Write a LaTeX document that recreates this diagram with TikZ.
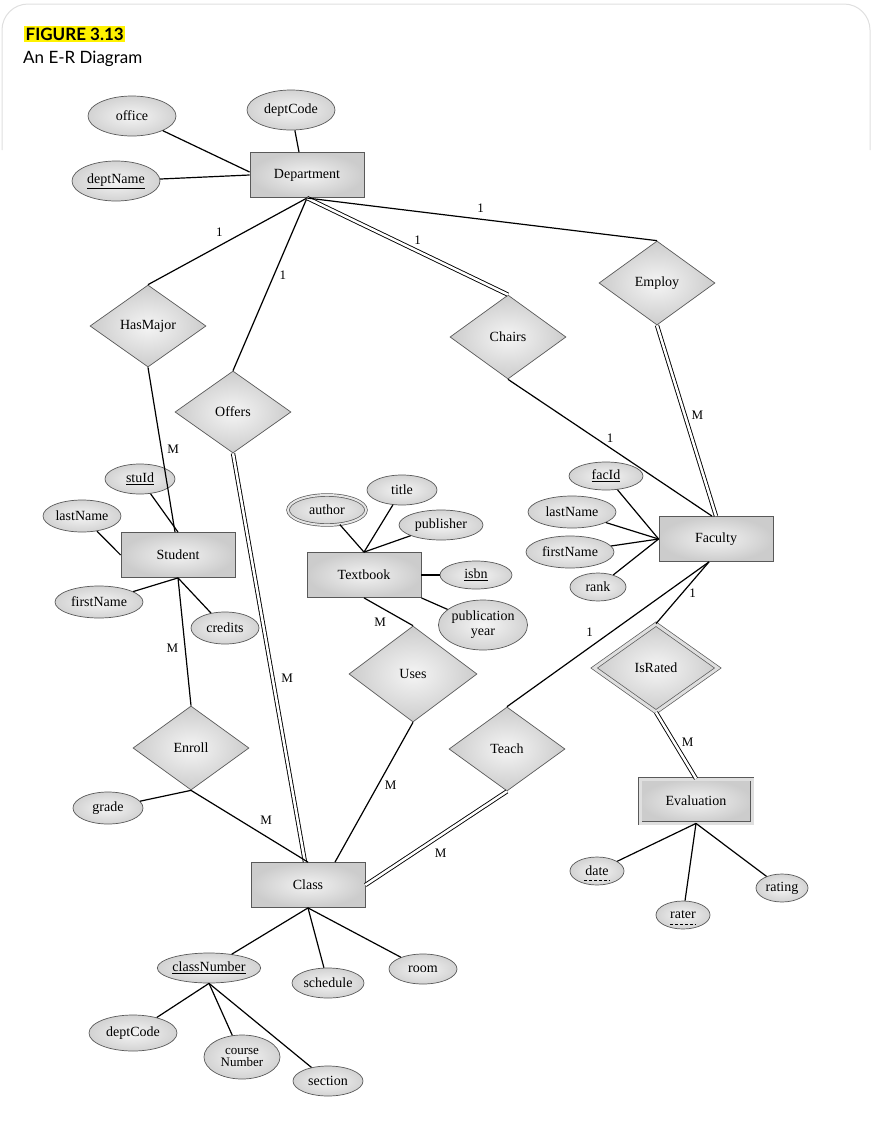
\documentclass[tikz,border=0pt]{standalone}
\usepackage{fontspec}
\setmainfont{Liberation Serif}
\newfontfamily\titlefont{Lato}
\usetikzlibrary{shapes.geometric,calc}
\begin{document}
\begin{tikzpicture}[x=1pt,y=-1pt,
  every node/.style={font=\fontsize{14}{15}\selectfont},
  ent/.style={draw=gray!70!black,line width=0.8pt,rectangle,minimum width=114,minimum height=45,inner color=gray!10,outer color=gray!40},
  attr/.style={draw=gray!70!black,line width=0.7pt,ellipse,inner sep=0,inner color=gray!8,outer color=gray!35},
  rel/.style={draw=gray!70!black,line width=0.7pt,diamond,inner sep=0,inner color=gray!8,outer color=gray!40},
  ln/.style={line width=1.2pt},
  dl/.style={double,double distance=2.5pt,line width=0.9pt},
  lab/.style={font=\fontsize{13}{14}\selectfont}]
\useasboundingbox (0,0) rectangle (882,1128);
\draw[gray!25,line width=1pt,rounded corners=26] (2,150) -- (2,4) -- (870,4) -- (870,150);
\node[fill=yellow,inner sep=1.5pt,anchor=west,font=\titlefont\bfseries\fontsize{17}{19}\selectfont] (fig) at (24,34) {FIGURE 3.13};
\node[anchor=west,inner sep=0,font=\titlefont\fontsize{17}{19}\selectfont] (sub) at (23,59) {An E-R Diagram};
% entities
\node[ent] (dept) at (307,175) {Department};
\node[ent] (stud) at (178,555) {Student};
\node[ent] (text) at (364,575) {Textbook};
\node[ent] (fac) at (716,539) {Faculty};
\node[ent] (class) at (308,885) {Class};
\node[ent,minimum width=112,minimum height=44,double=gray!25,double distance=3pt] (eval) at (696,801) {Evaluation};
% relationships
\node[rel,minimum width=116,minimum height=82] (hasm) at (148,326) {HasMajor};
\node[rel,minimum width=116,minimum height=82] (offers) at (233,412) {Offers};
\node[rel,minimum width=116,minimum height=84] (chairs) at (508,337) {Chairs};
\node[rel,minimum width=116,minimum height=84] (employ) at (657,283) {Employ};
\node[rel,minimum width=124,minimum height=88,double=gray!25,double distance=3pt] (israted) at (656,668) {IsRated};
\node[rel,minimum width=128,minimum height=96] (uses) at (413,674) {Uses};
\node[rel,minimum width=116,minimum height=84] (teach) at (507,749) {Teach};
\node[rel,minimum width=116,minimum height=84] (enroll) at (191,748) {Enroll};
% attributes
\node[attr,minimum width=88,minimum height=40] (office) at (132,116) {office};
\node[attr,minimum width=88,minimum height=40] (dcode) at (291,110) {deptCode};
\node[attr,minimum width=88,minimum height=40] (dname) at (116,181) {\underline{deptName}};
\node[attr,minimum width=70,minimum height=30] (stuid) at (140,479) {\underline{stuId}};
\node[attr,minimum width=78,minimum height=32] (sln) at (82,516) {lastName};
\node[attr,minimum width=88,minimum height=32] (sfn) at (99,602) {firstName};
\node[attr,minimum width=68,minimum height=32] (cred) at (225,628) {credits};
\node[attr,minimum width=78,minimum height=30,double=gray!20,double distance=2pt] (author) at (327,510) {author};
\node[attr,minimum width=70,minimum height=30] (title) at (402,490) {title};
\node[attr,minimum width=84,minimum height=30] (pub) at (441,525) {publisher};
\node[attr,minimum width=72,minimum height=28] (isbn) at (476,575) {\underline{isbn}};
\node[attr,minimum width=88,minimum height=50,align=center] (pyear) at (483,625) {publication\\year};
\node[attr,minimum width=74,minimum height=28] (facid) at (606,476) {\underline{facId}};
\node[attr,minimum width=88,minimum height=32] (fln) at (572,512) {lastName};
\node[attr,minimum width=88,minimum height=32] (ffn) at (570,552) {firstName};
\node[attr,minimum width=56,minimum height=28] (rank) at (598,587) {rank};
\node[attr,minimum width=54,minimum height=28] (date) at (597,871) {date};
\node[attr,minimum width=54,minimum height=28] (rater) at (683,915) {rater};
\node[attr,minimum width=52,minimum height=28] (rating) at (782,888) {rating};
\node[attr,minimum width=70,minimum height=32] (grade) at (108,808) {grade};
\node[attr,minimum width=100,minimum height=30] (cnum) at (209,968) {\underline{classNumber}};
\node[attr,minimum width=72,minimum height=30] (sched) at (328,983) {schedule};
\node[attr,minimum width=68,minimum height=30] (room) at (423,969) {room};
\node[attr,minimum width=88,minimum height=36] (dcode2) at (133,1033) {deptCode};
\node[attr,minimum width=76,minimum height=44,align=center,font=\fontsize{13}{12}\selectfont] (cnumb) at (242,1057) {course\\Number};
\node[attr,minimum width=70,minimum height=30] (sect) at (328,1081) {section};
\draw[densely dashed,thin] ($(date.center)+(-13,9)$) -- ++(26,0);
\draw[densely dashed,thin] ($(rater.center)+(-13,9)$) -- ++(26,0);
% department edges
\draw[ln] (office) -- ($(dept.west)+(0,-3)$);
\draw[ln] (dname) -- (dept.west);
\draw[ln] (dcode) -- ($(dept.north)+(-8,0)$);
\coordinate (ds) at (307,198);
\draw[ln] (ds) -- (hasm.north) node[lab,pos=0.5,above left=1pt] {1};
\draw[ln] (ds) -- (offers.north) node[lab,pos=0.45,right=2pt] {1};
\draw[dl] (ds) -- (chairs.north) node[lab,pos=0.55,above=3pt] {1};
\draw[ln] (ds) -- (405,210) -- (employ.north) node[lab,pos=0.3,above=3pt] {1};
% others
\draw[ln] (hasm.south) -- ($(stud.north)+(-3,0)$) node[lab,pos=0.5,right=2pt] {M};
\draw[dl] (offers.south) -- ($(class.north)+(-3,0)$) node[lab,pos=0.55,right=5pt] {M};
\draw[ln] (chairs.south) -- ($(fac.north)+(-4,0)$) node[lab,pos=0.5,above=1pt] {1};
\draw[dl] (employ.south) -- (fac.north) node[lab,pos=0.47,right=3pt] {M};
\draw[ln] (stud.south) -- (enroll.north) node[lab,pos=0.55,left=3pt] {M};
\draw[ln] (stuid) -- (stud.north);
\draw[ln] (sln) -- (stud.west);
\draw[ln] (sfn) -- (stud.south);
\draw[ln] (cred) -- (stud.south);
\draw[ln] (enroll.south) -- (class.north) node[lab,pos=0.55,above right=1pt] {M};
\draw[ln] (grade) -- (enroll.south);
\draw[ln] (author) -- (text.north);
\draw[ln] (title) -- (text.north);
\draw[ln] (pub) -- (text.north);
\draw[ln] (isbn) -- (text.east);
\draw[ln] (pyear) -- (text.south east);
\draw[ln] (text.south) -- (uses.north) node[lab,pos=0.55,below left=1pt] {M};
\draw[ln] (uses.south) -- ($(class.north)+(27,0)$) node[lab,pos=0.45,right=3pt] {M};
\draw[ln] (facid) -- (fac.west);
\draw[ln] (fln) -- (fac.west);
\draw[ln] (ffn) -- (fac.west);
\draw[ln] (rank) -- (fac.west);
\draw[ln] ($(fac.south)+(-7,0)$) -- (teach.north) node[lab,pos=0.55,above left=1pt] {1};
\draw[ln] ($(fac.south)+(-7,0)$) -- (israted.north) node[lab,pos=0.5,right=3pt] {1};
\draw[dl] (teach.south) -- (class.east) node[lab,pos=0.55,below right=2pt] {M};
\draw[dl] (israted.south) -- (eval.north) node[lab,pos=0.45,right=4pt] {M};
\draw[ln] (eval.south) -- (date);
\draw[ln] (eval.south) -- (rater);
\draw[ln] (eval.south) -- (rating);
\draw[ln] (class.south) -- (cnum);
\draw[ln] (class.south) -- (sched);
\draw[ln] (class.south) -- (room);
\draw[ln] (cnum.south) -- (dcode2);
\draw[ln] (cnum.south) -- (cnumb);
\draw[ln] (cnum.south) -- (sect);
\end{tikzpicture}
\end{document}
